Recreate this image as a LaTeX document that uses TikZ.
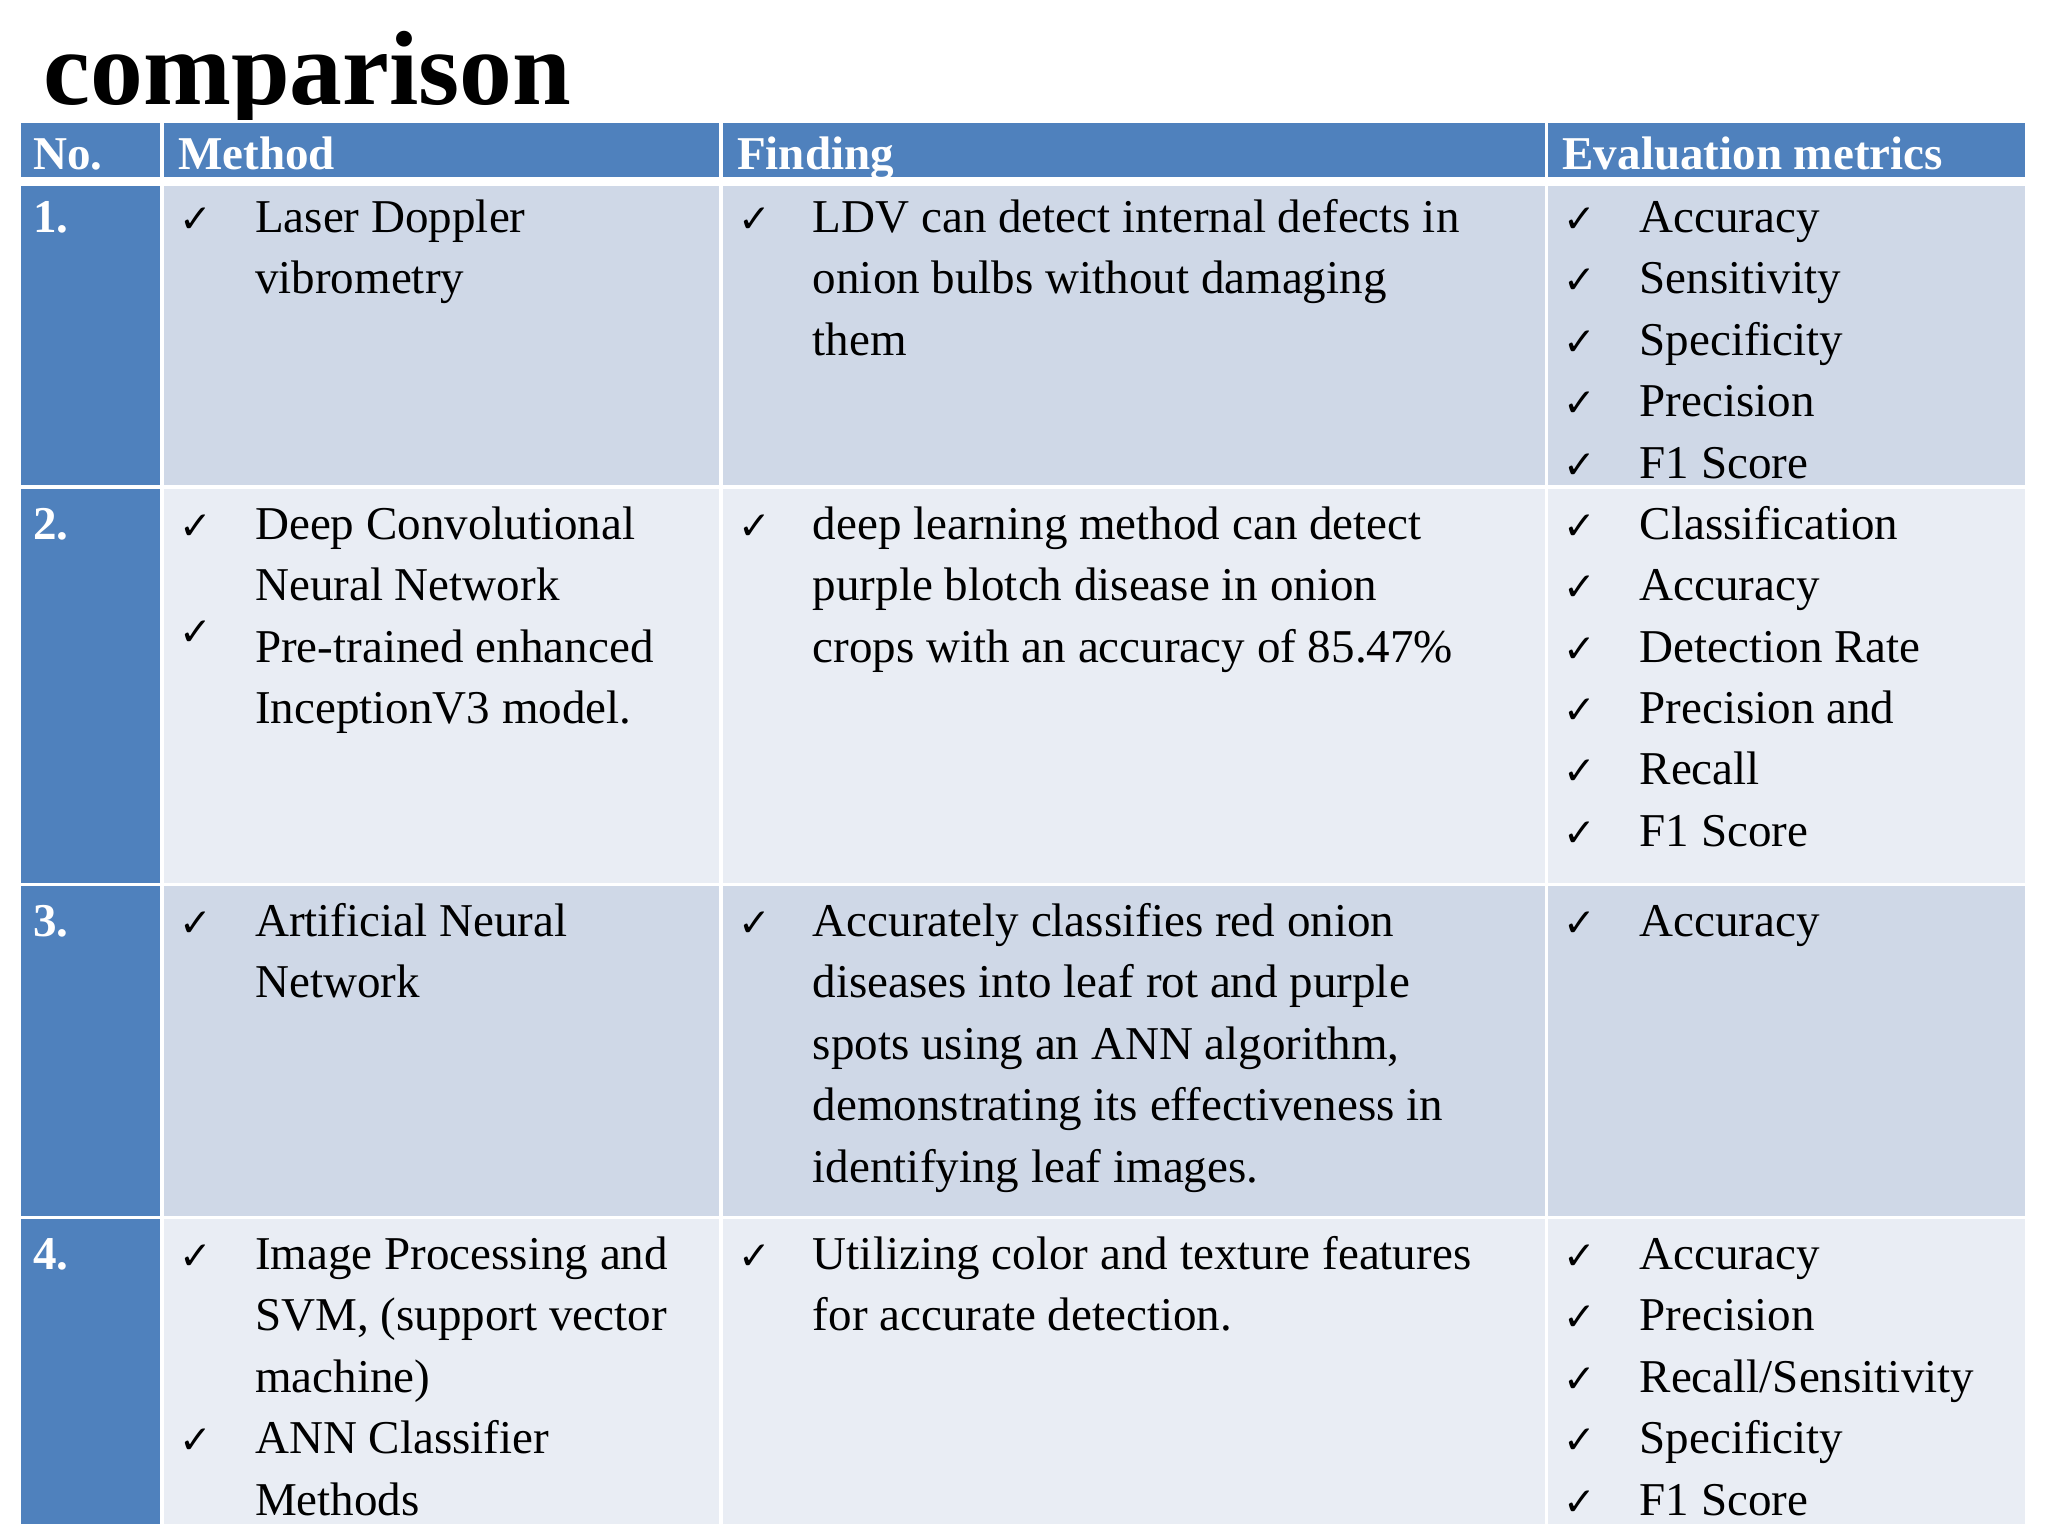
\documentclass[tikz,border=0pt]{standalone}
\usepackage{fontspec}
\setmainfont{Liberation Serif}
\newfontfamily\djv{DejaVu Sans}
\newcommand\cellitems[4]{\foreach \t [count=\i from 0] in {#4} {\node[txt] (#3-\i) at (#1,{#2+47*\i}) {\t};}}
\newcommand\checks[3]{\foreach \k [count=\j] in {#3} {\node[txt,font=\djv\fontsize{17}{20}\selectfont] (#2-c\j) at (#1,\k) {✓};}}
\begin{document}
\begin{tikzpicture}[x=0.02cm,y=-0.02cm,
  txt/.style={anchor=base west,inner sep=0,font=\fontsize{20.5}{24}\selectfont},
  hd/.style={anchor=base west,inner sep=0,text=white,font=\bfseries\fontsize{20.5}{24}\selectfont},
  blue/.style={fill=hdblue},dark/.style={fill=rowdark},light/.style={fill=rowlight}]
\definecolor{hdblue}{HTML}{4F81BD}
\definecolor{rowdark}{HTML}{CFD8E7}
\definecolor{rowlight}{HTML}{E9EDF4}
\useasboundingbox (0,0) rectangle (1568,1176);
\fill[white] (0,0) rectangle (1568,1176);
\node[anchor=base west,inner sep=0,font=\bfseries\fontsize{46}{50}\selectfont] (title) at (33,80) {comparison};
% cells
\def\xs{15,124,552,1184,1552}
\foreach \ya/\yb/\st in {93/137/blue,141/373/dark,373/677/light,677/932/dark,932/1168/light}{
  \foreach \xa/\xb [count=\c] in {15/124,124/552,552/1184,1184/1552}{
    \ifnum\c=1 \fill[hdblue,draw=white,line width=1.5pt] (\xa,\ya) rectangle (\xb,\yb);
    \else \fill[\st,draw=white,line width=1.5pt] (\xa,\ya) rectangle (\xb,\yb);\fi
  }}
\node[hd] (h1) at (25,130) {No.};
\node[hd] (h2) at (136,130) {Method};
\node[hd] (h3) at (564,130) {Finding};
\node[hd] (h4) at (1196,130) {Evaluation metrics};
\node[hd] (n1) at (25,178) {1.};
\node[hd] (n2) at (25,413) {2.};
\node[hd] (n3) at (25,717) {3.};
\node[hd] (n4) at (25,972) {4.};
% row 1
\checks{137}{m1}{178}
\cellitems{195}{178}{m1}{Laser Doppler,vibrometry}
\checks{565}{f1}{178}
\cellitems{622}{178}{f1}{LDV can detect internal defects in,onion bulbs without damaging,them}
\checks{1197}{e1}{178,225,272,319,366}
\cellitems{1255}{178}{e1}{Accuracy,Sensitivity,Specificity,Precision,F1 Score}
% row 2
\checks{137}{m2}{413,494}
\cellitems{195}{413}{m2}{Deep Convolutional,Neural Network,Pre-trained enhanced,InceptionV3 model.}
\checks{565}{f2}{413}
\cellitems{622}{413}{f2}{deep learning method can detect,purple blotch disease in onion,crops with an accuracy of 85.47\%}
\checks{1197}{e2}{413,460,507,554,601,648}
\cellitems{1255}{413}{e2}{Classification,Accuracy,Detection Rate,Precision and,Recall,F1 Score}
% row 3
\checks{137}{m3}{717}
\cellitems{195}{717}{m3}{Artificial Neural,Network}
\checks{565}{f3}{717}
\cellitems{622}{717}{f3}{Accurately classifies red onion,diseases into leaf rot and purple,{spots using an ANN algorithm,},demonstrating its effectiveness in,identifying leaf images.}
\checks{1197}{e3}{717}
\cellitems{1255}{717}{e3}{Accuracy}
% row 4
\checks{137}{m4}{972,1113}
\cellitems{195}{972}{m4}{Image Processing and,{SVM, (support vector},machine),ANN Classifier,Methods}
\checks{565}{f4}{972}
\cellitems{622}{972}{f4}{Utilizing color and texture features,for accurate detection.}
\checks{1197}{e4}{972,1019,1066,1113,1160}
\cellitems{1255}{972}{e4}{Accuracy,Precision,Recall/Sensitivity,Specificity,F1 Score}
\end{tikzpicture}
\end{document}
